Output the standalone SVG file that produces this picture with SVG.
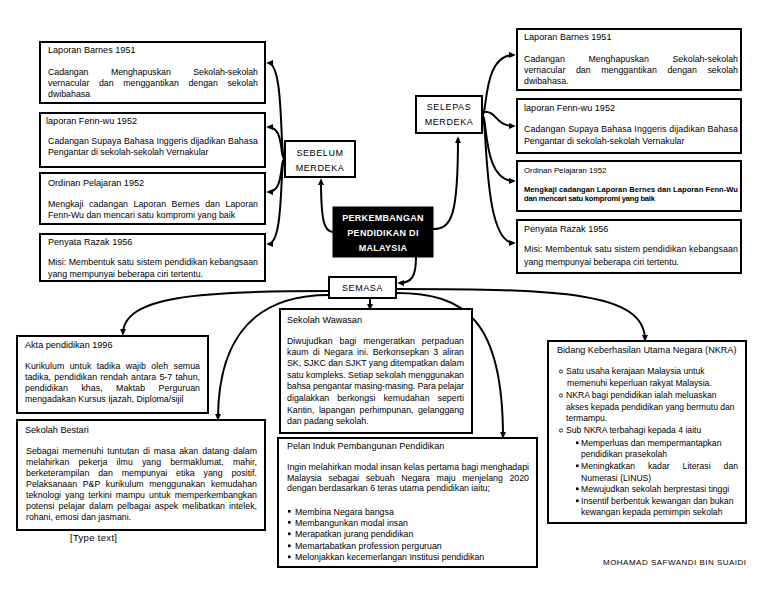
<svg xmlns="http://www.w3.org/2000/svg" width="768" height="594" viewBox="0 0 768 594">
<style>
text{font-family:"Liberation Sans",Arial,sans-serif;fill:#000}
.b{font-size:8.8px}
.h{font-size:9.1px}
.n{font-size:8.6px}
.s{font-size:7.8px}
.sb{font-size:7.6px;font-weight:bold}
.cap{font-size:9px;letter-spacing:0.6px;text-anchor:middle}
.w{font-size:9px;font-weight:bold;fill:#fff;text-anchor:middle;letter-spacing:0.3px}
.box{fill:#fff;stroke:#000;stroke-width:2}
.dark{fill:#000;stroke:#000;stroke-width:1}
.c{fill:none;stroke:#000;stroke-width:2}
.bul{fill:#000}
.ob{fill:none;stroke:#000;stroke-width:0.8}
</style>
<defs>
<marker id="ah" viewBox="0 0 8 8" markerWidth="7" markerHeight="7" refX="6" refY="4" orient="auto" markerUnits="userSpaceOnUse">
<path d="M0,0.5 L8,4 L0,7.5 z" fill="#000"/>
</marker>
</defs>
<rect width="768" height="594" fill="#fff"/>

<g id="connectors">
<path class="c" marker-end="url(#ah)" d="M333,232 C324,232 321,220 321,180"/>
<path class="c" marker-end="url(#ah)" d="M433,229 C452,229 458,215 458,138"/>
<path class="c" marker-end="url(#ah)" d="M416,257 C416,276 412,283 399,283"/>
<path class="c" marker-end="url(#ah)" d="M285,159 C279,159 285,63 268,63"/>
<path class="c" marker-end="url(#ah)" d="M285,159 C279,159 285,127 268,127"/>
<path class="c" marker-end="url(#ah)" d="M285,159 C279,159 285,192 268,192"/>
<path class="c" marker-end="url(#ah)" d="M285,159 C279,159 285,244 268,244"/>
<path class="c" marker-end="url(#ah)" d="M482,115 C488,115 482,55 514,55"/>
<path class="c" marker-end="url(#ah)" d="M482,112 C498,110 494,126 514,126"/>
<path class="c" marker-end="url(#ah)" d="M482,115 C488,115 482,181 514,181"/>
<path class="c" marker-end="url(#ah)" d="M482,115 C488,115 482,243 514,243"/>
<path class="c" marker-end="url(#ah)" d="M329,291 C200,291 123,296 123,334"/>
<path class="c" marker-end="url(#ah)" d="M329,295 C262,295 218,330 218,419"/>
<path class="c" marker-end="url(#ah)" d="M370,298 L370,309"/>
<path class="c" marker-end="url(#ah)" d="M396,293 C465,293 503,320 503,437"/>
<path class="c" marker-end="url(#ah)" d="M396,289 C560,289 645,292 645,340"/>
</g>

<g id="central">
<rect class="dark" x="333" y="207" width="100" height="50"/>
<text class="w" x="383" y="220.5">PERKEMBANGAN</text>
<text class="w" x="383" y="235.5">PENDIDIKAN DI</text>
<text class="w" x="383" y="250.5">MALAYSIA</text>
</g>

<g id="sebelum">
<rect class="box" x="285" y="141" width="70" height="36"/>
<text class="cap" x="320" y="155.5">SEBELUM</text>
<text class="cap" x="320" y="170.5">MERDEKA</text>
</g>

<g id="selepas">
<rect class="box" x="416" y="96" width="66" height="37"/>
<text class="cap" x="449" y="109.5">SELEPAS</text>
<text class="cap" x="449" y="124.5">MERDEKA</text>
</g>

<g id="semasa">
<rect class="box" x="329" y="277" width="67" height="21"/>
<text class="cap" x="362.5" y="291">SEMASA</text>
</g>

<g id="l1">
<rect class="box" x="40" y="42" width="225" height="61"/>
<text class="h" x="48" y="53">Laporan Barnes 1951</text>
<text class="b" x="48" y="75" style="word-spacing:20px" textLength="210">Cadangan Menghapuskan Sekolah-sekolah</text>
<text class="b" x="48" y="86" style="word-spacing:7px" textLength="210">vernacular dan menggantikan dengan sekolah</text>
<text class="b" x="48" y="97">dwibahasa</text>
</g>

<g id="l2">
<rect class="box" x="40" y="113" width="225" height="54"/>
<text class="h" x="46" y="124">laporan Fenn-wu 1952</text>
<text class="b" x="48" y="144" textLength="210">Cadangan Supaya Bahasa Inggeris dijadikan Bahasa</text>
<text class="b" x="48" y="155">Pengantar di sekolah-sekolah Vernakular</text>
</g>

<g id="l3">
<rect class="box" x="40" y="173" width="225" height="51"/>
<text class="h" x="48" y="186">Ordinan Pelajaran 1952</text>
<text class="b" x="48" y="207" style="word-spacing:3px" textLength="210">Mengkaji cadangan Laporan Bernes dan Laporan</text>
<text class="b" x="48" y="218">Fenn-Wu dan mencari satu kompromi yang baik</text>
</g>

<g id="l4">
<rect class="box" x="40" y="234" width="225" height="47"/>
<text class="h" x="48" y="245">Penyata Razak 1956</text>
<text class="b" x="48" y="265" textLength="210">Misi: Membentuk satu sistem pendidikan kebangsaan</text>
<text class="b" x="48" y="277">yang mempunyai beberapa ciri tertentu.</text>
</g>

<g id="r1">
<rect class="box" x="517" y="29" width="224" height="61"/>
<text class="h" x="524" y="40">Laporan Barnes 1951</text>
<text class="b" x="524" y="62" style="word-spacing:21px" textLength="214">Cadangan Menghapuskan Sekolah-sekolah</text>
<text class="b" x="524" y="73" style="word-spacing:8px" textLength="214">vernacular dan menggantikan dengan sekolah</text>
<text class="b" x="524" y="84">dwibahasa.</text>
</g>

<g id="r2">
<rect class="box" x="517" y="99" width="224" height="54"/>
<text class="h" x="524" y="111">laporan Fenn-wu 1952</text>
<text class="b" x="524" y="132" textLength="214">Cadangan Supaya Bahasa Inggeris dijadikan Bahasa</text>
<text class="b" x="524" y="144">Pengantar di sekolah-sekolah Vernakular</text>
</g>

<g id="r3">
<rect class="box" x="517" y="161" width="224" height="50"/>
<text class="s" x="524" y="173">Ordinan Pelajaran 1952</text>
<text class="sb" x="524" y="192" textLength="214">Mengkaji cadangan Laporan Bernes dan Laporan Fenn-Wu</text>
<text class="sb" x="524" y="201" textLength="131">dan mencari satu kompromi yang baik</text>
</g>

<g id="r4">
<rect class="box" x="517" y="220" width="224" height="53"/>
<text class="h" x="524" y="232">Penyata Razak 1956</text>
<text class="b" x="524" y="252" textLength="214">Misi: Membentuk satu sistem pendidikan kebangsaan</text>
<text class="b" x="524" y="265">yang mempunyai beberapa ciri tertentu.</text>
</g>

<g id="akta">
<rect class="box" x="17" y="336" width="191" height="77"/>
<text class="h" x="25" y="348">Akta pendidikan 1996</text>
<text class="b" x="25" y="369" style="word-spacing:3px" textLength="175">Kurikulum untuk tadika wajib oleh semua</text>
<text class="b" x="25" y="380" style="word-spacing:0.8px" textLength="175">tadika, pendidikan rendah antara 5-7 tahun,</text>
<text class="b" x="25" y="391" style="word-spacing:11px" textLength="175">pendidikan khas, Maktab Perguruan</text>
<text class="b" x="25" y="401.5">mengadakan Kursus Ijazah, Diploma/sijil</text>
</g>

<g id="bestari">
<rect class="box" x="17" y="420" width="248" height="110"/>
<text class="h" x="25" y="433">Sekolah Bestari</text>
<text class="b" x="26" y="454" style="word-spacing:1.4px" textLength="231">Sebagai memenuhi tuntutan di masa akan datang dalam</text>
<text class="b" x="26" y="465" style="word-spacing:6.6px" textLength="231">melahirkan pekerja ilmu yang bermaklumat, mahir,</text>
<text class="b" x="26" y="476" style="word-spacing:6.3px" textLength="231">berketerampilan dan mempunyai etika yang positif.</text>
<text class="b" x="26" y="487" style="word-spacing:3.2px" textLength="231">Pelaksanaan P&amp;P kurikulum menggunakan kemudahan</text>
<text class="b" x="26" y="498" style="word-spacing:1.7px" textLength="231">teknologi yang terkini mampu untuk memperkembangkan</text>
<text class="b" x="26" y="509" style="word-spacing:1.6px" textLength="231">potensi pelajar dalam pelbagai aspek melibatkan intelek,</text>
<text class="b" x="26" y="520">rohani, emosi dan jasmani.</text>
</g>

<g id="wawasan">
<rect class="box" x="280" y="309" width="192" height="124"/>
<text class="h" x="287" y="323">Sekolah Wawasan</text>
<text class="b" x="287" y="344" style="word-spacing:4.5px" textLength="177">Diwujudkan bagi mengeratkan perpaduan</text>
<text class="b" x="287" y="355" style="word-spacing:1.8px" textLength="177">kaum di Negara ini. Berkonsepkan 3 aliran</text>
<text class="b" x="287" y="366" textLength="177">SK, SJKC dan SJKT yang ditempatkan dalam</text>
<text class="b" x="287" y="378" textLength="177">satu kompleks. Setiap sekolah menggunakan</text>
<text class="b" x="287" y="389" textLength="177">bahsa pengantar masing-masing. Para pelajar</text>
<text class="b" x="287" y="401" style="word-spacing:5.5px" textLength="177">digalakkan berkongsi kemudahan seperti</text>
<text class="b" x="287" y="413" style="word-spacing:2px" textLength="177">Kantin, lapangan perhimpunan, gelanggang</text>
<text class="b" x="287" y="424">dan padang sekolah.</text>
</g>

<g id="pelan">
<rect class="box" x="278" y="438" width="259" height="129"/>
<text class="h" x="287" y="448.5">Pelan Induk Pembangunan Pendidikan</text>
<text class="b" x="287" y="469.5" textLength="242">Ingin melahirkan modal insan kelas pertama bagi menghadapi</text>
<text class="b" x="287" y="480.5" style="word-spacing:4.2px" textLength="242">Malaysia sebagai sebuah Negara maju menjelang 2020</text>
<text class="b" x="287" y="491">dengan berdasarkan 6 teras utama pendidikan iaitu;</text>
<rect class="bul" x="288" y="510" width="2.6" height="2.6"/>
<text class="b" x="295" y="514.5">Membina Negara bangsa</text>
<rect class="bul" x="288" y="521" width="2.6" height="2.6"/>
<text class="b" x="295" y="525.5">Membangunkan modal insan</text>
<rect class="bul" x="288" y="532.5" width="2.6" height="2.6"/>
<text class="b" x="295" y="537">Merapatkan jurang pendidikan</text>
<rect class="bul" x="288" y="544.5" width="2.6" height="2.6"/>
<text class="b" x="295" y="549">Memartabatkan profession perguruan</text>
<rect class="bul" x="288" y="555.5" width="2.6" height="2.6"/>
<text class="b" x="295" y="560">Melonjakkan kecemerlangan Institusi pendidikan</text>
</g>

<g id="nkra">
<rect class="box" x="548" y="341" width="198" height="182"/>
<text class="h" x="557" y="353">Bidang Keberhasilan Utama Negara (NKRA)</text>
<circle class="ob" cx="561" cy="371.5" r="1.6"/>
<text class="n" x="566" y="374">Satu usaha kerajaan Malaysia untuk</text>
<text class="n" x="567" y="386">memenuhi keperluan rakyat Malaysia.</text>
<circle class="ob" cx="561" cy="395.5" r="1.6"/>
<text class="n" x="566" y="398">NKRA bagi pendidikan ialah meluaskan</text>
<text class="n" x="566" y="410">akses kepada pendidikan yang bermutu dan</text>
<text class="n" x="566" y="421">termampu.</text>
<circle class="ob" cx="561" cy="430.5" r="1.6"/>
<text class="n" x="566" y="433">Sub NKRA terbahagi kepada 4 iaitu</text>
<rect class="bul" x="576" y="441.5" width="2.6" height="2.6"/>
<text class="n" x="581" y="446">Memperluas dan mempermantapkan</text>
<text class="n" x="581" y="456.5">pendidikan prasekolah</text>
<rect class="bul" x="576" y="464.5" width="2.6" height="2.6"/>
<text class="n" x="581" y="469" style="word-spacing:10.5px" textLength="157">Meningkatkan kadar Literasi dan</text>
<text class="n" x="581" y="480.5">Numerasi (LINUS)</text>
<rect class="bul" x="576" y="487.5" width="2.6" height="2.6"/>
<text class="n" x="581" y="492">Mewujudkan sekolah berprestasi tinggi</text>
<rect class="bul" x="576" y="499.5" width="2.6" height="2.6"/>
<text class="n" x="581" y="504">Insentif berbentuk kewangan dan bukan</text>
<text class="n" x="581" y="515">kewangan kepada pemimpin sekolah</text>
</g>

<text style="font-size:9.5px" x="70" y="541" textLength="47">[Type text]</text>
<text style="font-size:8px" x="603" y="565" textLength="143">MOHAMAD SAFWANDI BIN SUAIDI</text>
</svg>
